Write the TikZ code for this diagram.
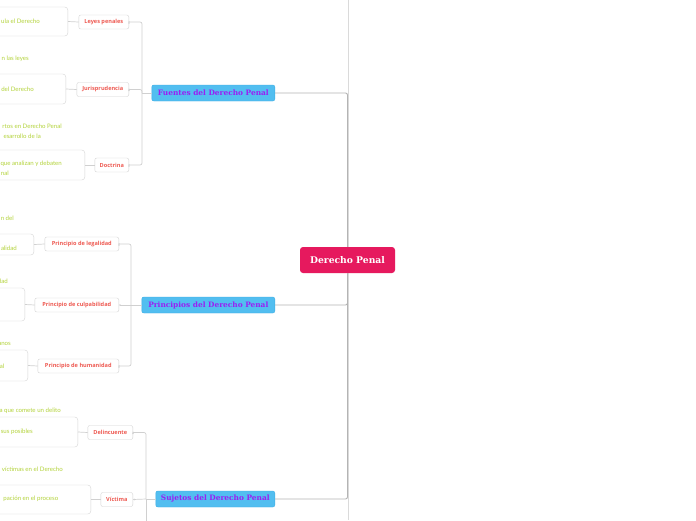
\documentclass[tikz,border=0pt]{standalone}
\usepackage{fontspec}
\setmainfont{Lato}
\newfontfamily\slab{DejaVu Serif}
\newfontfamily\subf{Open Sans}
\usetikzlibrary{arrows.meta}
\definecolor{rootc}{HTML}{E6195E}
\definecolor{topicc}{HTML}{52BEF0}
\definecolor{topicb}{HTML}{3FAEE3}
\definecolor{topict}{HTML}{9A1FF2}
\definecolor{subt}{HTML}{EE5A52}
\definecolor{subb}{HTML}{D4D4D4}
\definecolor{leaft}{HTML}{B3D33A}
\definecolor{leafb}{HTML}{D6D6D6}
\definecolor{mainline}{HTML}{B4B4B4}
\definecolor{faintline}{HTML}{DADADA}
\definecolor{branchline}{HTML}{D0D0D0}
\tikzset{
  rootbox/.style={fill=rootc, rounded corners=3pt, text=white, font=\slab\bfseries\fontsize{9.2}{10}\selectfont, minimum width=95, minimum height=26, inner sep=0},
  topicbox/.style={fill=topicc, draw=topicb, rounded corners=2pt, text=topict, font=\slab\bfseries\fontsize{7.4}{8}\selectfont, minimum height=16, inner sep=0},
  subbox/.style={draw=subb, fill=white, rounded corners=2pt, text=subt, font=\subf\bfseries\fontsize{5.6}{6}\selectfont, minimum height=14, inner ysep=0, inner xsep=0},
  leafbox/.style={draw=leafb, fill=white, rounded corners=3pt, anchor=east, inner sep=0},
  leaftext/.style={text=leaft, font=\fontsize{6.1}{7}\selectfont, anchor=east, inner sep=0},
  mainconn/.style={draw=mainline, line width=0.9pt, rounded corners=2pt},
  branchconn/.style={draw=branchline, line width=0.7pt, rounded corners=2pt, {Stealth[length=1.6pt,width=1.8pt]}-},
  leafconn/.style={draw=branchline, line width=0.7pt}
}
\begin{document}
\begin{tikzpicture}[x=1pt,y=-1pt]
\useasboundingbox (0,0) rectangle (696,520);
\clip (0,0) rectangle (696,520);
\fill[white] (0,0) rectangle (696,520);

% faint continuation of the main vertical line
\coordinate (topend) at (348,0);
\coordinate (botend) at (348,520);
\draw[draw=faintline, line width=0.9pt] (topend) -- (botend);

% root
\node[rootbox] (dp) at (347.5,260) {Derecho Penal};

% topics
\node[topicbox, anchor=east, minimum width=123] (fu) at (275,93) {Fuentes del Derecho Penal};
\node[topicbox, anchor=east, minimum width=133] (pr) at (275,305) {Principios del Derecho Penal};
\node[topicbox, anchor=east, minimum width=119] (su) at (275,499) {Sujetos del Derecho Penal};

\draw[mainconn] (fu.east) -| (dp.north);
\draw[mainconn] (pr.east) -| (dp.south);
\draw[mainconn] (su.east) -| (dp.south);

% subtopics
\node[subbox, anchor=east, minimum width=50] (ley) at (129,22) {Leyes penales};
\node[subbox, anchor=east, minimum width=52] (jur) at (129,89.5) {Jurisprudencia};
\node[subbox, anchor=east, minimum width=34] (doc) at (129,165) {Doctrina};
\node[subbox, anchor=east, minimum width=74] (leg) at (119,244) {Principio de legalidad};
\node[subbox, anchor=east, minimum width=84] (cul) at (119,305) {Principio de culpabilidad};
\node[subbox, anchor=east, minimum width=81] (hum) at (119,366) {Principio de humanidad};
\node[subbox, anchor=east, minimum width=45] (del) at (133,432.5) {Delincuente};
\node[subbox, anchor=east, minimum width=32] (vic) at (133,499.5) {Víctima};

\coordinate (fuj) at (142,93);
\coordinate (prj) at (131,305);
\coordinate (suj) at (146,499);
\coordinate (sudown) at (146,530);

\draw[leafconn] (fu.west) -- (fuj);
\draw[branchconn] (ley.east) -- ++(2,0) -| (fuj);
\draw[branchconn] (jur.east) -- ++(2,0) -| (fuj);
\draw[branchconn] (doc.east) -- ++(2,0) -| (fuj);

\draw[leafconn] (pr.west) -- (prj);
\draw[branchconn] (leg.east) -- ++(2,0) -| (prj);
\draw[branchconn] (cul.east) -- (prj);
\draw[branchconn] (hum.east) -- ++(2,0) -| (prj);

\draw[leafconn] (su.west) -- (suj);
\draw[branchconn] (del.east) -- ++(2,0) -| (suj);
\draw[branchconn] (vic.east) -- (suj);
\draw[leafconn] (suj) -- (sudown);

% leaf boxes
\node[leafbox, minimum width=90, minimum height=29] (l1) at (68,21.5) {};
\node[leafbox, minimum width=90, minimum height=30] (l2) at (66,89) {};
\node[leafbox, minimum width=100, minimum height=30] (l3) at (85,165) {};
\node[leafbox, minimum width=60, minimum height=21] (l4) at (34,244.5) {};
\node[leafbox, minimum width=60, minimum height=33] (l5) at (25,304.5) {};
\node[leafbox, minimum width=60, minimum height=31] (l6) at (28,365.5) {};
\node[leafbox, minimum width=100, minimum height=30] (l7) at (78,432) {};
\node[leafbox, minimum width=110, minimum height=29] (l8) at (91,499.5) {};

\draw[leafconn] (l1.east) -- (ley.west);
\draw[leafconn] (l2.east) -- (jur.west);
\draw[leafconn] (l3.east) -- (doc.west);
\draw[leafconn] (l4.east) -- (leg.west);
\draw[leafconn] (l5.east) -- (cul.west);
\draw[leafconn] (l6.east) -- (hum.west);
\draw[leafconn] (l7.east) -- (del.west);
\draw[leafconn] (l8.east) -- (vic.west);

% leaf texts
\node[leaftext] (t1) at (40,21.5) {ula el Derecho};
\node[leaftext] (t2) at (29,59) {n las leyes};
\node[leaftext] (t3) at (34,89) {del Derecho};
\node[leaftext] (t4) at (62,126.5) {rtos en Derecho Penal};
\node[leaftext] (t5) at (41,136) {esarrollo de la};
\node[leaftext] (t6) at (62,164) {que analizan y debaten};
\node[leaftext] (t7) at (9,173) {nal};
\node[leaftext] (t8) at (14,218.5) {n del};
\node[leaftext] (t9) at (17,248.5) {alidad};
\node[leaftext] (t10) at (8,281) {dad};
\node[leaftext] (t11) at (11,343.5) {anos};
\node[leaftext] (t12) at (4.5,366) {al};
\node[leaftext] (t13) at (61,410.5) {a que comete un delito};
\node[leaftext] (t14) at (33,432) {sus posibles};
\node[leaftext] (t15) at (63,469.5) {víctimas en el Derecho};
\node[leaftext] (t16) at (58.5,499) {pación en el proceso};
\end{tikzpicture}
\end{document}
